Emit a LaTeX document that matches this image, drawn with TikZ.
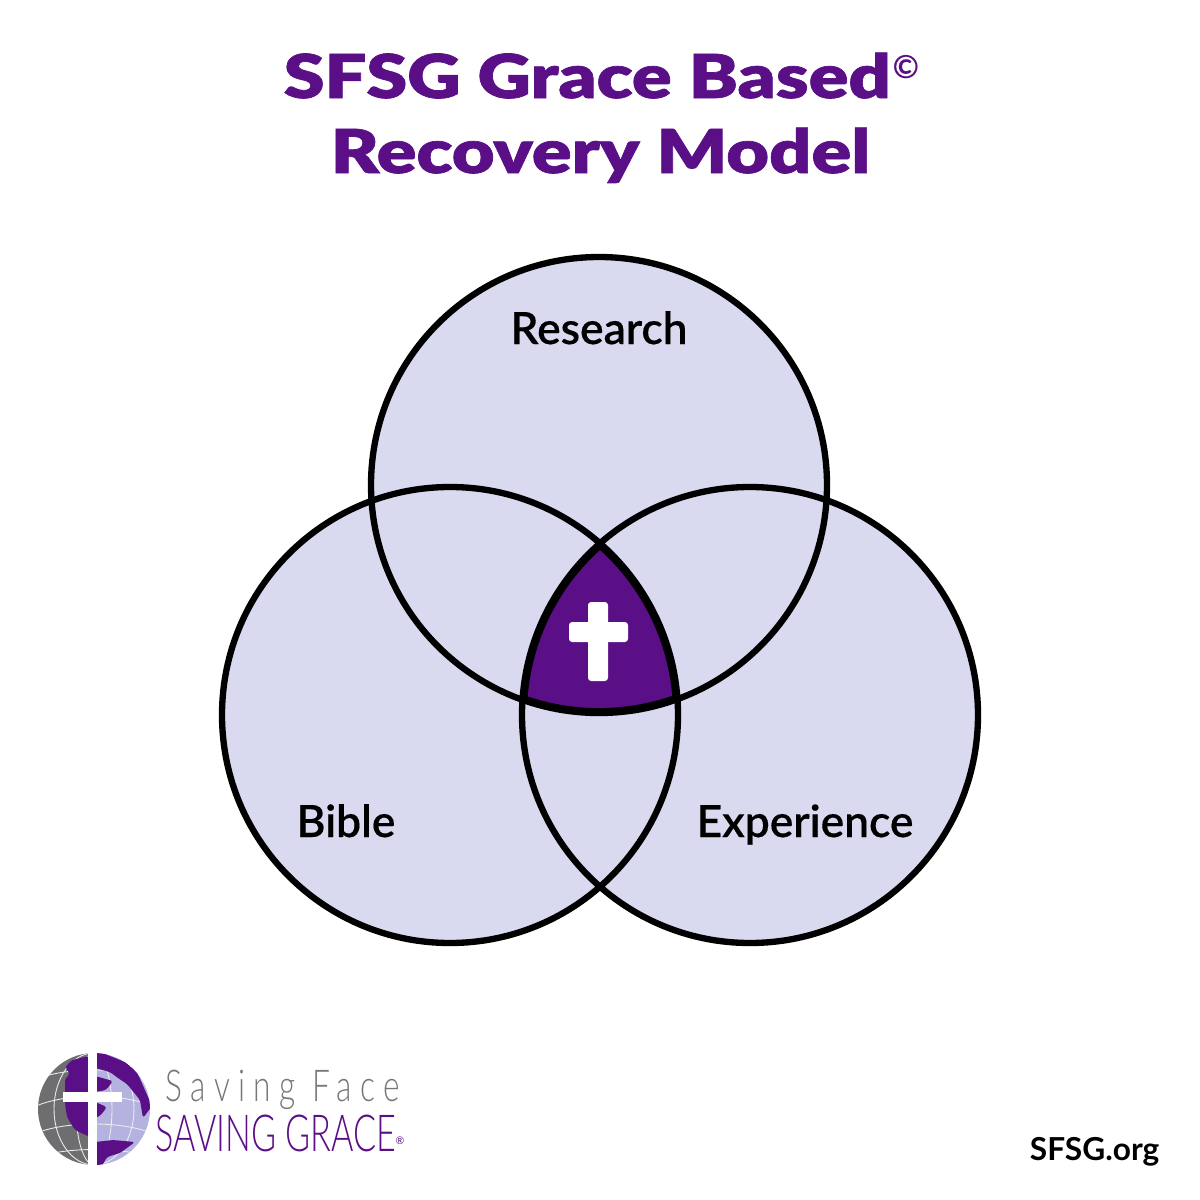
\documentclass[tikz,border=0pt]{standalone}
\usepackage{fontspec}
\setmainfont{Lato}
\newfontfamily\titlefont[FakeStretch=1.22,FakeBold=1.2]{Lato Black}
\newfontfamily\labelfont[FakeBold=.3]{Lato Semibold}
\newfontfamily\facefont[FakeStretch=.72,LetterSpace=19]{Lato Light}
\newfontfamily\gracefont[FakeStretch=.67]{Lato Light}
\definecolor{sfsgpurple}{HTML}{5A0F87}
\definecolor{venn}{HTML}{D9D9F0}
\definecolor{globegrey}{HTML}{6E6E70}
\definecolor{globelight}{HTML}{B4B2DE}
\definecolor{logogrey}{HTML}{77777A}
\tikzset{
  title/.style={text=sfsgpurple,font=\titlefont\fontsize{17.2}{20}\selectfont,anchor=base west,inner sep=0pt},
  region/.style={text=black,font=\labelfont\fontsize{12.6}{14}\selectfont,anchor=base},
  ring/.style={draw=black,line width=1.8pt},
  gridline/.style={draw=white!85!gray,line width=.25pt},
  land/.style={fill=sfsgpurple,rounded corners=.8pt},
}
\begin{document}
\begin{tikzpicture}[x=.01cm,y=-.01cm]
  \useasboundingbox (0,0) rectangle (1200,1200);

  \coordinate (top) at (599,485);
  \coordinate (left) at (450,715);
  \coordinate (right) at (750,715);

  % circles
  \fill[venn] (top) circle (228);
  \fill[venn] (left) circle (228);
  \fill[venn] (right) circle (228);

  % middle part
  \begin{scope}
    \clip (top) circle (228);
    \clip (left) circle (228);
    \clip (right) circle (228);
    \fill[sfsgpurple] (top) circle (228);
    \draw[black,line width=2.8pt] (top) circle (228);
    \draw[black,line width=2.8pt] (left) circle (228);
    \draw[black,line width=2.8pt] (right) circle (228);
  \end{scope}

  \draw[ring] (top) circle (228);
  \draw[ring] (left) circle (228);
  \draw[ring] (right) circle (228);

  % cross in the middle
  \fill[white,rounded corners=.9pt] (588,602) rectangle (608,681);
  \fill[white,rounded corners=.9pt] (569,622) rectangle (628,642);

  \node[title] (titlea) at (283,98) {SFSG Grace Based};
  \node[text=sfsgpurple,font=\labelfont\fontsize{9}{9}\selectfont,anchor=base west,inner sep=0pt] (copyr) at (892,78) {©};
  \node[title] (titleb) at (330,173) {Recovery Model};

  \node[region] (research) at (599,344) {Research};
  \node[region] (bible) at (346,837) {Bible};
  \node[region] (experience) at (805,837) {Experience};

  % logo globe
  \begin{scope}
    \clip (94,1109) circle (56);
    \fill[globegrey] (38,1050) rectangle (94,1170);
    \fill[globelight] (94,1050) rectangle (152,1170);
    \draw[gridline] (94,1109) ellipse (18 and 56);
    \draw[gridline] (94,1109) ellipse (40 and 56);
    \draw[gridline] (30,1082) .. controls (60,1066) and (128,1066) .. (158,1082);
    \draw[gridline] (30,1109) .. controls (60,1092) and (128,1092) .. (158,1109);
    \draw[gridline] (30,1136) .. controls (60,1120) and (128,1120) .. (158,1136);
    \draw[gridline] (30,1160) .. controls (60,1146) and (128,1146) .. (158,1160);
    \path[land] (90,1056) -- (72,1060) -- (65,1067) -- (70,1074) -- (65,1079) -- (65,1103)
      -- (67,1117) -- (75,1130) -- (90,1137) -- cycle;
    \path[land] (95,1050) -- (125,1062) -- (137,1072) -- (152,1106) -- (143,1118)
      -- (140,1100) -- (127,1084) -- (118,1078) -- (110,1072) -- (95,1068) -- cycle;
    \path[land] (95,1076) -- (113,1081) -- (106,1090) -- (95,1092) -- cycle;
    \path[land] (95,1102) -- (107,1107) -- (100,1116) -- (95,1118) -- cycle;
    \path[land] (95,1142) -- (113,1140) -- (135,1142) -- (120,1153) -- (107,1157)
      -- (102,1166) -- (95,1166) -- cycle;
    \fill[white] (88,1050) rectangle (97,1170);
    \fill[white] (63,1092) rectangle (122,1102);
  \end{scope}

  \node[text=logogrey,font=\facefont\fontsize{12.5}{14}\selectfont,anchor=base west,inner sep=0pt] (savingface) at (165,1101) {Saving Face};
  \node[text=sfsgpurple,font=\gracefont\fontsize{14.5}{16}\selectfont,anchor=base west,inner sep=0pt] (savinggrace) at (155,1151) {SAVING GRACE};
  \node[text=sfsgpurple,font=\fontsize{3}{3}\selectfont,anchor=center,inner sep=0pt] (reg) at (400,1141) {®};

  \node[font=\fontsize{9}{11}\selectfont\bfseries,anchor=base east,inner sep=0pt] (website) at (1160,1160) {SFSG.org};
\end{tikzpicture}
\end{document}
